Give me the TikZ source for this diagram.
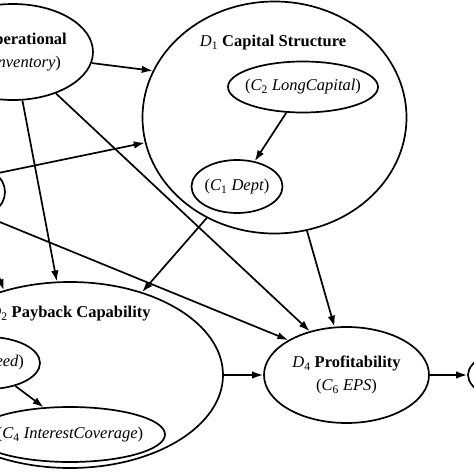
\documentclass[tikz,border=0pt]{standalone}
\usepackage{fontspec}
\setmainfont{Liberation Serif}
\usetikzlibrary{shapes.geometric, arrows.meta}
\tikzstyle{factor} = [ellipse, draw=black, line width=1.7pt, inner sep=-20pt,
text centered]
\tikzstyle{title} = [font=\fontsize{16.5}{23}\selectfont\bfseries]
\tikzstyle{arrow} = [line width=1.7pt, -{Latex[length=11pt, width=7.5pt]}]
\newcommand{\dsub}[1]{\textmd{\textit{D}\textsubscript{#1}}}
\newcommand{\csub}[1]{\textit{C}\textsubscript{#1}}

\begin{document}
\begin{tikzpicture}[x=1pt, y=-1pt, font=\fontsize{16.5}{23}\selectfont]
            \useasboundingbox (0,0) rectangle (474,474);
            \clip (0,0) rectangle (474,474);
            % Dimensions
            \node[factor, minimum width=160, minimum height=96, align=center]
            (ope) at (13,52) {\textbf{\dsub{3} Operational}\\(\csub{5} \textit{Inventory})};
            \node[factor, minimum width=264, minimum height=232] (cap) at (274.5,117.5) {};
            \node[title] (capt) at (273,43) {\dsub{1} Capital Structure};
            \node[factor, minimum width=70, minimum height=54] (lft) at (-30,192) {};
            \node[factor, minimum width=306, minimum height=186] (pay) at (70,375) {};
            \node[title] (payt) at (70,314) {\dsub{2} Payback Capability};
            \node[factor, minimum width=165, minimum height=96, align=center]
            (pro) at (346.5,375) {\textbf{\dsub{4} Profitability}\\(\csub{6} \textit{EPS})};
            \node[factor, minimum width=104, minimum height=52] (rgt) at (520,375) {};
            % Criteria
            \node[factor, minimum width=150, minimum height=51] (lon) at (303,87)
            {(\csub{2} \textit{LongCapital})};
            \node[factor, minimum width=91, minimum height=53] (dep) at (237,186.5)
            {(\csub{1} \textit{Dept})};
            \node[factor, minimum width=104, minimum height=52] (spe) at (-12,363)
            {(\csub{3} \textit{Speed})};
            \node[factor, minimum width=190, minimum height=55] (int) at (70,434.5)
            {(\csub{4} \textit{InterestCoverage})};
            % Arrows
            \draw[arrow] (lon.-123) -- (dep.55);
            \draw[arrow] (spe.-40) -- (int.134);
            \draw[arrow] (ope.-8) -- (cap.159);
            \draw[arrow] (ope.-79) -- (pay.98);
            \draw[arrow] (ope.-44) -- (pro.130);
            \draw[arrow] (lft.35) -- (cap.-169);
            \draw[arrow] (lft.-56) -- (pro.149);
            \draw[arrow] (lft.-73) -- (pay.128);
            \draw[arrow] (cap.-124) -- (pay.49);
            \draw[arrow] (cap.-74) -- (pro.104);
            \draw[arrow] (pay.east) -- (pro.west);
            \draw[arrow] (pro.east) -- (rgt.west);

        \end{tikzpicture}
\end{document}
